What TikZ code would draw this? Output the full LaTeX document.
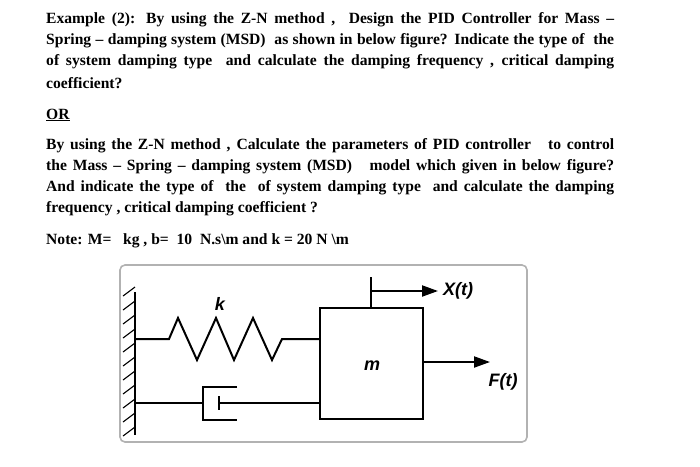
\documentclass[tikz,border=0pt]{standalone}
\usepackage{fontspec}
\setmainfont{Liberation Serif}
\setsansfont{Liberation Sans}
\usetikzlibrary{arrows.meta}
\begin{document}
\begin{tikzpicture}[x=1pt,y=-1pt,
  tl/.style={anchor=west,inner sep=0pt,font=\fontsize{15.6}{17}\selectfont\bfseries},
  jl/.style={tl},
  lab/.style={font=\sffamily\bfseries\itshape\fontsize{18}{20}\selectfont,inner sep=0pt},
  ln/.style={line width=2pt},
  arr/.style={ln,-{Triangle[length=16pt,width=11pt]}}]
\useasboundingbox (0,0) rectangle (700,466);
\def\J#1{\makebox[568pt][s]{#1}}
\node[jl] (l1) at (46,20) {\J{Example (2): By using the Z-N method ,\ \ Design the PID Controller for Mass –}};
\node[jl] (l2) at (46,41) {\J{Spring – damping system (MSD)\ \ as shown in below figure? Indicate the type of\ \ the}};
\node[jl] (l3) at (46,62) {\J{of system damping type\ \ and calculate the damping frequency , critical damping}};
\node[tl] (l4) at (46,83) {coefficient?};
\node[tl] (or) at (46,115) {\underline{OR}};
\node[jl] (l5) at (46,146) {\J{By using the Z-N method , Calculate the parameters of PID controller\ \ \ to control}};
\node[jl] (l6) at (46,167) {\J{the Mass – Spring – damping system (MSD)\ \ \ model which given in below figure?}};
\node[jl] (l7) at (46,188) {\J{And indicate the type of\ \ the\ \ of system damping type\ \ and calculate the damping}};
\node[tl] (l8) at (46,209) {frequency , critical damping coefficient ?};
\node[tl] (note) at (46,241) {Note: M=\ \ \ kg , b=\ \ 10\ \ N.s\textbackslash m and k = 20 N \textbackslash m};
% frame
\draw[gray!60,line width=1.6pt,rounded corners=5pt] (120,265) rectangle (527,442);
% wall
\draw[ln] (135,292) -- (135,435);
\foreach \y in {296,310,...,436} \draw[line width=1.1pt] (135,\y-9) -- (123,\y);
% mass
\node[draw,ln,minimum width=103pt,minimum height=111pt,inner sep=0pt] (mass) at (371.5,363.5) {};
\node[lab] (m) at (372,366) {m};
% spring
\coordinate (sw) at (135,339);
\draw[ln] (sw) -- (169,339) -- (178,318) -- (197,360) -- (216,318) -- (234,360) -- (253,318) -- (272,360) -- (282,339) -- (mass.west |- sw);
\node[lab] (k) at (220,304) {k};
% damper
\coordinate (dw) at (135,403);
\draw[ln] (dw) -- (203,403);
\draw[ln] (237,387) -- (203,387) -- (203,420) -- (237,420);
\draw[ln] (219,396) -- (219,410);
\draw[ln] (219,403) -- (mass.west |- dw);
% x(t)
\coordinate (xp) at (371,277);
\coordinate (xe) at (438,291);
\draw[ln] (mass.north -| xp) -- (xp);
\draw[arr] (371,291) -- (xe);
\node[lab,anchor=west] (xt) at (443,291) {X(t)};
% F(t)
\coordinate (fe) at (490,362);
\draw[arr] (mass.east |- fe) -- (fe);
\node[lab] (ft) at (503,382) {F(t)};
\end{tikzpicture}
\end{document}
